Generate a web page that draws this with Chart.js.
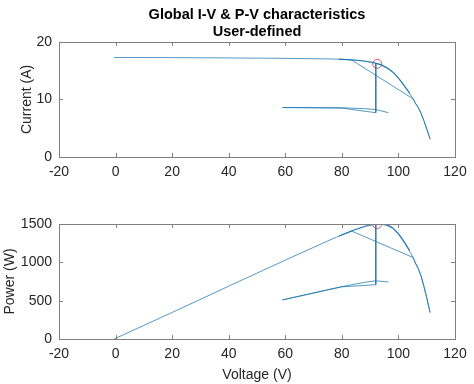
<!DOCTYPE html>
<html>
<head>
<meta charset="utf-8">
<script src="https://cdn.jsdelivr.net/npm/chart.js@4.4.1/dist/chart.umd.min.js"></script>
<style>
  html, body { margin: 0; padding: 0; background: #fff; }
  #wrap { position: relative; width: 474px; height: 384px; overflow: hidden; }
  canvas { position: absolute; left: 0; }
  #c1 { top: 0; }
  #c2 { top: 190px; }
</style>
</head>
<body>
<div id="wrap">
  <canvas id="c1" width="474" height="190"></canvas>
  <canvas id="c2" width="474" height="194"></canvas>
</div>
<script>
// Trajectory of the operating point
const voltage = [-0.5, 20, 40, 60, 75, 80, 83.5,
                 105.2, 106, 107, 108, 109, 110, 111.2,
                 110, 109, 108, 107, 106, 105.2, 104, 102, 100, 98, 96, 94, 92,
                 94, 96, 98, 100, 102, 104, 102, 100, 98, 96, 94, 92,
                 88, 84, 79, 84, 88, 91, 92,
                 92, 80, 70, 59, 70, 80, 88, 92, 96.5];
const current = [17.3, 17.28, 17.22, 17.15, 17.05, 16.98, 16.85,
                 10.1, 9.35, 8.6, 7.6, 6.3, 4.9, 3.1,
                 4.9, 6.3, 7.6, 8.6, 9.35, 10.1, 10.95, 12.35, 13.65, 14.7, 15.4, 15.95, 16.3,
                 16.05, 15.55, 14.85, 13.8, 12.5, 11.1, 12.45, 13.75, 14.8, 15.5, 16.0, 16.3,
                 16.65, 16.85, 17.0, 16.9, 16.7, 16.45, 16.3,
                 7.7, 8.5, 8.55, 8.6, 8.58, 8.55, 8.4, 8.25, 7.7];
const power   = [0, 346, 689, 1029, 1279, 1358, 1407,
                 1063, 991, 920, 821, 687, 539, 345,
                 539, 687, 821, 920, 991, 1063, 1139, 1260, 1365, 1441, 1478, 1499, 1500,
                 1509, 1493, 1455, 1380, 1275, 1154, 1270, 1375, 1450, 1488, 1504, 1500,
                 1465, 1415, 1343, 1420, 1470, 1497, 1500,
                 708, 680, 599, 510, 601, 684, 739, 759, 743];
// Maximum power point marker
const mppVoltage = [92.5];
const mppCurrent = [16.2];
const mppPower = [1500];
// Axis ticks
const xRange = [-20, 120];
const xStep = 20;
const currentRange = [0, 20];
const currentStep = 10;
const powerRange = [0, 1500];
const powerStep = 500;

const FONT = "'Liberation Sans', Arial, Helvetica, sans-serif";
const LINE = 'rgba(20,115,170,0.72)';
const AXIS = '#7f7f7f';
const TEXT = '#262626';

const boxTicks = {
  id: 'boxTicks',
  afterDraw(chart) {
    const {ctx, chartArea: a, scales} = chart;
    ctx.save();
    ctx.strokeStyle = AXIS;
    ctx.lineWidth = 1;
    const L = 4;
    ctx.beginPath();
    scales.x.ticks.forEach(t => {
      const px = Math.round(scales.x.getPixelForValue(t.value)) + 0.5;
      ctx.moveTo(px, a.bottom); ctx.lineTo(px, a.bottom - L);
      ctx.moveTo(px, a.top); ctx.lineTo(px, a.top + L);
    });
    scales.y.ticks.forEach(t => {
      const py = Math.round(scales.y.getPixelForValue(t.value)) + 0.5;
      ctx.moveTo(a.left, py); ctx.lineTo(a.left + L, py);
      ctx.moveTo(a.right, py); ctx.lineTo(a.right - L, py);
    });
    ctx.stroke();
    ctx.strokeRect(Math.round(a.left) + 0.5, Math.round(a.top) + 0.5,
                   Math.round(a.right - a.left), Math.round(a.bottom - a.top));
    ctx.restore();
  }
};

function pts(xs, ys) { return xs.map((x, i) => ({x, y: ys[i]})); }

function makeChart(id, yVals, mppY, yRange, yStep, yLabel, opts) {
  return new Chart(document.getElementById(id), {
    type: 'scatter',
    data: {
      datasets: [
        { data: pts(voltage, yVals), showLine: true, borderColor: LINE, borderWidth: 1,
          pointRadius: 0, tension: 0, fill: false },
        { data: pts(mppVoltage, mppY), showLine: false, pointRadius: 4.5, pointStyle: 'circle',
          borderColor: 'rgb(210,90,110)', backgroundColor: 'rgba(0,0,0,0)', borderWidth: 1 }
      ]
    },
    options: {
      responsive: false,
      animation: false,
      events: [],
      layout: { padding: opts.padding },
      plugins: {
        legend: { display: false },
        tooltip: { enabled: false },
        title: opts.title
      },
      scales: {
        x: {
          type: 'linear', min: xRange[0], max: xRange[1],
          grid: { display: false, drawTicks: false },
          border: { display: false },
          ticks: { stepSize: xStep, color: TEXT, font: { family: FONT, size: 14 }, padding: 7, maxRotation: 0,
                   callback: v => String(v) },
          title: opts.xTitle,
          afterFit: s => { s.height = opts.xHeight; }
        },
        y: {
          type: 'linear', min: yRange[0], max: yRange[1],
          grid: { display: false, drawTicks: false },
          border: { display: false },
          ticks: { stepSize: yStep, color: TEXT, font: { family: FONT, size: 14 }, padding: 7,
                   callback: v => String(v) },
          title: { display: true, text: yLabel, color: TEXT, font: { family: FONT, size: 14 },
                   padding: opts.yTitlePad },
          afterFit: s => { s.width = 59; }
        }
      }
    },
    plugins: [boxTicks]
  });
}

makeChart('c1', current, mppCurrent, currentRange, currentStep, 'Current (A)', {
  padding: { left: 0, right: 19, top: 0, bottom: 0 },
  title: { display: true, fullSize: false, text: ['Global I-V & P-V characteristics', 'User-defined'],
           color: '#000', font: { family: FONT, size: 14.5, weight: 'bold', lineHeight: 1.15 },
           padding: { top: 6.5, bottom: 2.1 } },
  xTitle: { display: false },
  xHeight: 33,
  yTitlePad: { top: 19, bottom: 0 }
});

makeChart('c2', power, mppPower, powerRange, powerStep, 'Power (W)', {
  padding: { left: 0, right: 19, top: 34, bottom: 0 },
  title: { display: false },
  xTitle: { display: true, text: 'Voltage (V)', color: TEXT, font: { family: FONT, size: 14 }, padding: { top: 2, bottom: 0 } },
  xHeight: 45,
  yTitlePad: { top: 2, bottom: 0 }
});
</script>
</body>
</html>
